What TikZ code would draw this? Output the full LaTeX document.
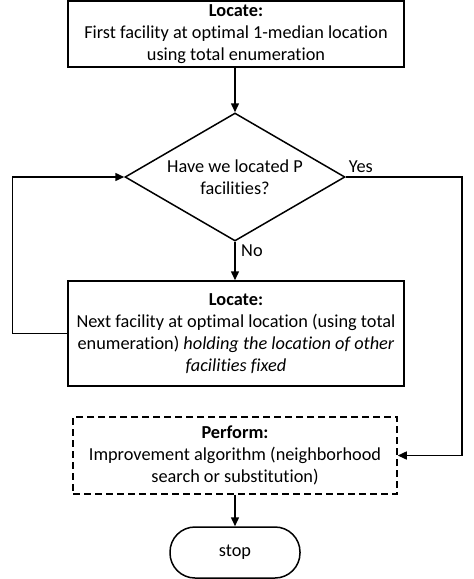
\documentclass[tikz,border=0pt]{standalone}
\usepackage{fontspec}
\setmainfont{Carlito}[Ligatures={NoCommon}]
\usetikzlibrary{shapes.geometric,arrows.meta}
\tikzset{
  flowbox/.style={draw,line width=1.5pt,rectangle,align=center,inner xsep=2pt,inner ysep=0pt},
  askbox/.style={draw,line width=1.5pt,diamond,align=center,inner sep=0pt,aspect=1.72,minimum width=220pt,minimum height=128pt},
  endbox/.style={draw,line width=1.5pt,rectangle,rounded corners=25pt,minimum width=130pt,minimum height=51pt},
  flowline/.style={line width=1.5pt,-{Triangle[length=9pt,width=8pt]}}
}
\begin{document}
\begin{tikzpicture}[x=1pt,y=-1pt,font=\fontsize{18.3}{22}\selectfont]
\path[use as bounding box] (0,0) rectangle (474,579);
\node[flowbox,minimum width=336pt,minimum height=66pt] (first) at (236,34)
  {\textbf{Locate:}\\First facility at optimal 1-median location\\using total enumeration};
\node[askbox] (ask) at (235,177) {Have we located P\\facilities?};
\node[flowbox,minimum width=336pt,minimum height=105pt] (next) at (236,333.5)
  {\textbf{Locate:}\\Next facility at optimal location (using total\\enumeration) \textit{holding the location of other}\\\textit{facilities fixed}};
\node[flowbox,dash pattern=on 7pt off 4pt,minimum width=324pt,minimum height=77pt] (perform) at (235,455.5)
  {\textbf{Perform:}\\Improvement algorithm (neighborhood\\search or substitution)};
\node[endbox] (stop) at (235,552.5) {stop};
\coordinate (yes) at (462,177);
% connectors
\draw[flowline] (first.south -| ask.north) -- (ask.north);
\draw[flowline] (ask.south) -- (ask.south |- next.north);
\draw[flowline] (next.west) -- ++(-55,0) |- (ask.west);
\draw[flowline] (ask.east) -- (yes) |- (perform.east);
\draw[flowline] (perform.south) -- (stop.north);
\node[anchor=south west,inner sep=1pt] at ([xshift=2pt,yshift=3pt]ask.east) {Yes};
\node[anchor=north west,inner sep=1pt] at ([xshift=5pt,yshift=-2pt]ask.south) {No};
\end{tikzpicture}
\end{document}
